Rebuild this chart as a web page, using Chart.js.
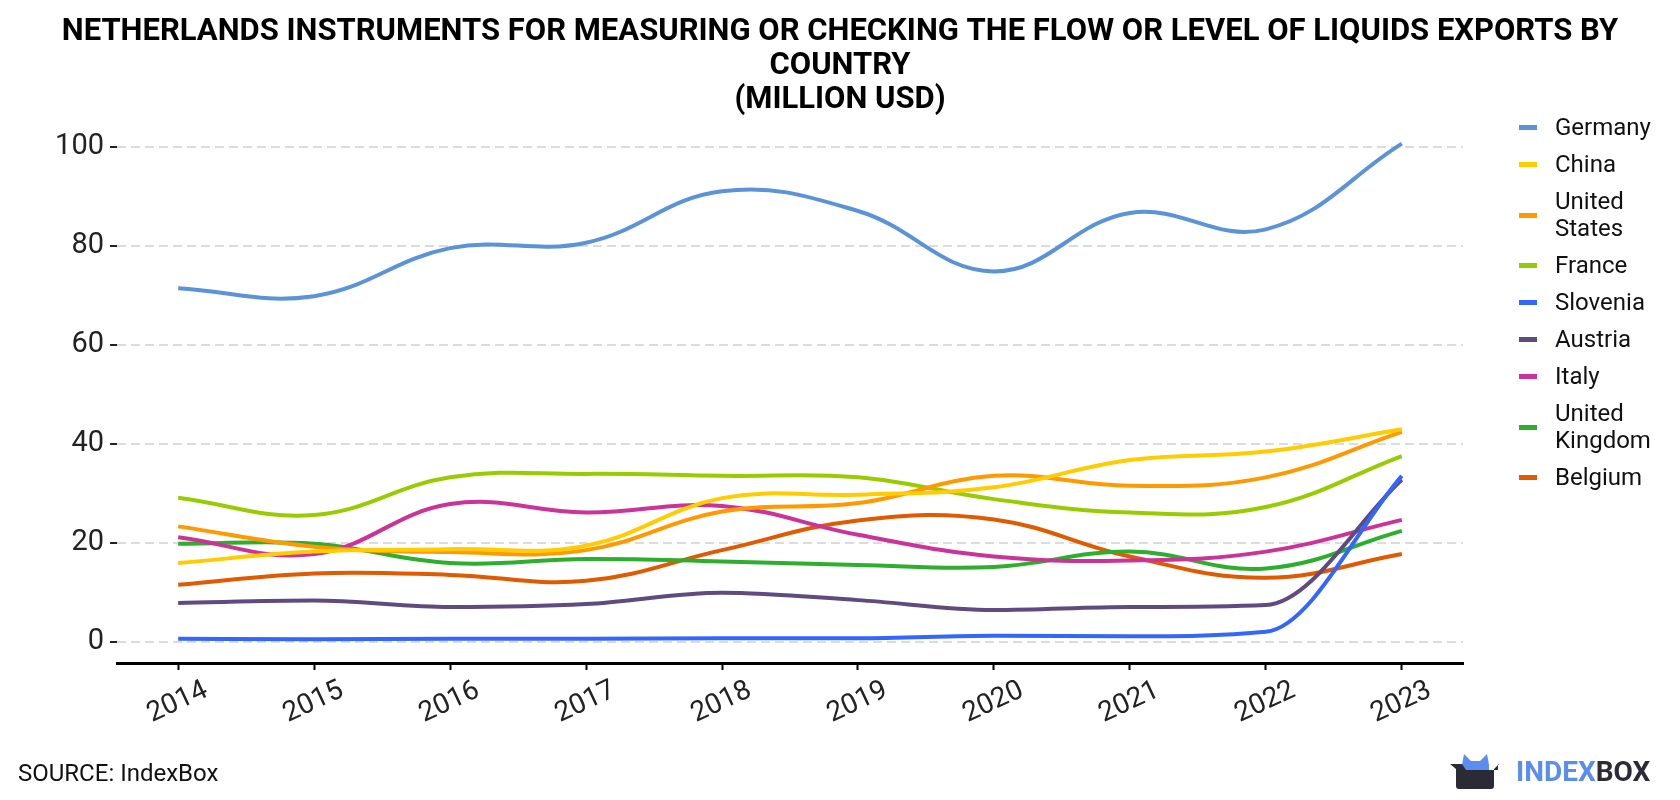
<!DOCTYPE html>
<html>
<head>
<meta charset="utf-8">
<script src="https://cdn.jsdelivr.net/npm/chart.js@4.4.0/dist/chart.umd.min.js"></script>
<style>
  html, body { margin: 0; padding: 0; background: #fff; }
  #wrap { position: relative; width: 1680px; height: 800px; font-family: Roboto, sans-serif; overflow: hidden; }
  #chart { position: absolute; left: 0; top: 0; }
  #legend { position: absolute; left: 1519px; top: 114px; }
  .item { display: flex; align-items: center; margin-bottom: 10px; }
  .sw { width: 18px; height: 5px; margin-right: 18px; flex: none; }
  .lbl { font-size: 24px; line-height: 27px; color: #111; }
  #source { position: absolute; left: 18px; top: 758px; font-size: 24px; line-height: 30px; color: #111; }
  #logoText { position: absolute; left: 1516px; top: 755px; font-size: 28px; line-height: 34px; font-weight: bold; letter-spacing: 0px; }
  #logoIcon { position: absolute; left: 1449px; top: 753px; }
</style>
</head>
<body>
<div id="wrap">
  <canvas id="chart" width="1680" height="800"></canvas>
  <div id="legend"></div>
  <div id="source">SOURCE: IndexBox</div>
  <svg id="logoIcon" width="54" height="40" viewBox="0 0 54 40">
    <path d="M13 12 L15 1 L22 8 L31 8 L38 1 L40 12 L40 18 L13 18 Z" fill="#5B8DEF"/>
    <path d="M1 11 L13 11 L17 17 L49 17 L49 11 L50 11 L45 16 L45 33 Q45 36 42 36 L10 36 Q7 36 7 33 L7 16 Z" fill="#2B2B36"/>
  </svg>
  <div id="logoText"><span style="color:#5B8DEF">INDEX</span><span style="color:#2B2B36">BOX</span></div>
</div>
<script>
// ---- data ----
const years = [2014, 2015, 2016, 2017, 2018, 2019, 2020, 2021, 2022, 2023];
const seriesNames = ['Germany', 'China', 'United States', 'France', 'Slovenia', 'Austria', 'Italy', 'United Kingdom', 'Belgium'];
const germany       = [71.4, 69.8, 79.5, 80.6, 91.0, 87.0, 74.8, 86.6, 83.3, 100.6];
const china         = [15.9, 18.2, 18.7, 19.4, 29.0, 29.7, 31.2, 36.7, 38.4, 42.9];
const unitedStates  = [23.3, 19.2, 18.1, 18.5, 26.3, 28.0, 33.5, 31.5, 33.2, 42.4];
const france        = [29.1, 25.6, 33.2, 33.9, 33.5, 33.2, 28.8, 26.1, 27.2, 37.5];
const slovenia      = [0.6, 0.5, 0.6, 0.6, 0.7, 0.7, 1.2, 1.1, 2.0, 33.5];
const austria       = [7.8, 8.3, 7.0, 7.6, 9.9, 8.4, 6.4, 7.0, 7.4, 32.7];
const italy         = [21.1, 17.7, 27.8, 26.1, 27.4, 21.6, 17.2, 16.4, 18.2, 24.6];
const unitedKingdom = [19.8, 19.8, 15.9, 16.7, 16.2, 15.5, 15.1, 18.2, 14.8, 22.4];
const belgium       = [11.5, 13.8, 13.5, 12.3, 18.5, 24.5, 24.7, 17.2, 12.9, 17.7];
const yTickValues = [0, 20, 40, 60, 80, 100];
const titleLines = ['NETHERLANDS INSTRUMENTS FOR MEASURING OR CHECKING THE FLOW OR LEVEL OF LIQUIDS EXPORTS BY', 'COUNTRY', '(MILLION USD)'];

// ---- styles ----
const colors = ['#5B93D9', '#FFCC00', '#FF9900', '#99CC00', '#3366FF', '#5F4B80', '#CC3399', '#2DAF2D', '#E05A00'];
const curveModes = ['default', 'default', 'default', 'default', 'monotone', 'monotone', 'default', 'default', 'default'];
const legendLines = [['Germany'], ['China'], ['United', 'States'], ['France'], ['Slovenia'], ['Austria'], ['Italy'], ['United', 'Kingdom'], ['Belgium']];

const allSeries = [germany, china, unitedStates, france, slovenia, austria, italy, unitedKingdom, belgium];

const datasets = allSeries.map((vals, k) => ({
  label: seriesNames[k],
  data: years.map((yr, i) => ({ x: yr, y: vals[i] })),
  borderColor: colors[k],
  backgroundColor: colors[k],
  borderWidth: 4,
  pointRadius: 0,
  pointHoverRadius: 0,
  tension: 0.4,
  cubicInterpolationMode: curveModes[k],
  fill: false
}));

// HTML legend
const legendEl = document.getElementById('legend');
seriesNames.forEach((name, k) => {
  const it = document.createElement('div');
  it.className = 'item';
  const sw = document.createElement('div');
  sw.className = 'sw';
  sw.style.background = colors[k];
  const lb = document.createElement('div');
  lb.className = 'lbl';
  lb.innerHTML = legendLines[k].join('<br>');
  it.appendChild(sw); it.appendChild(lb);
  legendEl.appendChild(it);
});

const font = 'Roboto';
new Chart(document.getElementById('chart'), {
  type: 'line',
  data: { datasets },
  options: {
    responsive: false,
    animation: false,
    events: [],
    layout: { padding: { left: 0, right: 0, top: 0, bottom: 0 } },
    plugins: {
      legend: { display: false },
      tooltip: { enabled: false },
      title: {
        display: true,
        text: titleLines,
        color: '#000',
        font: { family: font, size: 31, weight: 'bold', lineHeight: 1.1 },
        padding: { top: 15, bottom: 13 }
      }
    },
    scales: {
      x: {
        type: 'linear',
        min: 2013.55,
        max: 2023.45,
        afterBuildTicks: s => { s.ticks = years.map(v => ({ value: v })); },
        afterFit: s => { s.height = 137; },
        border: { display: true, color: '#000', width: 3 },
        grid: { drawOnChartArea: false, drawTicks: true, tickLength: 7, tickColor: '#000', tickWidth: 2 },
        ticks: {
          font: { family: font, size: 28 },
          color: '#222',
          minRotation: 25,
          maxRotation: 25,
          autoSkip: false,
          labelOffset: 28,
          padding: 4,
          callback: v => String(v)
        }
      },
      y: {
        min: -4.3,
        max: 103.3,
        afterBuildTicks: s => { s.ticks = yTickValues.map(v => ({ value: v })); },
        afterFit: s => { s.width = 117; },
        border: { display: false, dash: [9, 5] },
        grid: { color: '#dcdcdc', lineWidth: 2, drawTicks: true, tickLength: 7, tickColor: '#222', tickWidth: 2, tickBorderDash: [] },
        ticks: {
          font: { family: font, size: 29 },
          color: '#222',
          padding: 6,
          callback: v => String(v)
        }
      },
      legendSpace: {
        position: 'right',
        display: true,
        min: 0,
        max: 1,
        afterFit: s => { s.width = 217; },
        border: { display: false },
        grid: { display: false, drawTicks: false },
        ticks: { display: false }
      }
    }
  }
});
</script>
</body>
</html>
